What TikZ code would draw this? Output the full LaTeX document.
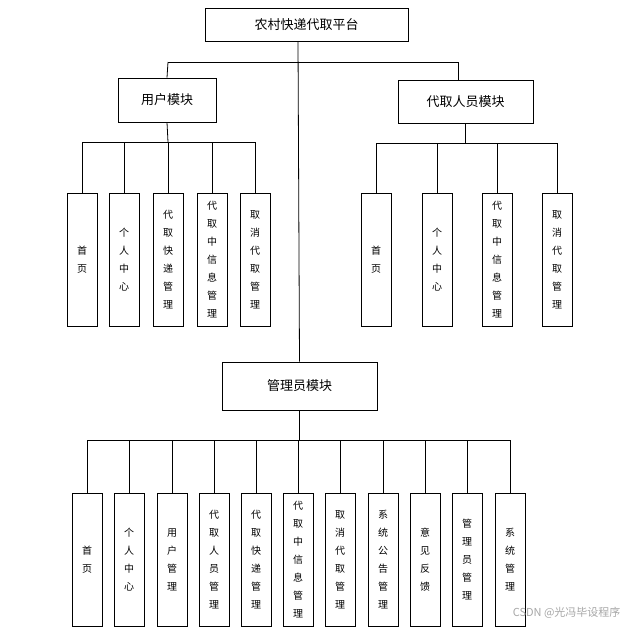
\documentclass[tikz,border=0pt]{standalone}
\usepackage{fontspec}
\newfontfamily\cjk{Noto Sans CJK SC}
\begin{document}
\begin{tikzpicture}[x=1pt,y=-1pt,
  box/.style={draw,thick,minimum width=30pt,minimum height=133pt,align=center,font=\cjk\fontsize{10}{18}\selectfont,inner sep=0pt,anchor=north},
  mod/.style={draw,thick,font=\cjk\fontsize{13}{15}\selectfont,inner sep=0pt},
  ln/.style={thick}]
\useasboundingbox (0,0) rectangle (637,633);
\node[mod,minimum width=203pt,minimum height=33pt] (top) at (306.5,24.5) {农村快递代取平台};
\node[mod,minimum width=98pt,minimum height=44pt] (u) at (167,100) {用户模块};
\node[mod,minimum width=135pt,minimum height=43pt] (d) at (465.5,101.5) {代取人员模块};
\node[mod,minimum width=155pt,minimum height=48pt] (a) at (299.5,386) {管理员模块};
\coordinate (tb) at (298,41);
\draw[ln] (tb) -- (a.north);
\draw[ln] (168,62) -- (458,62);
\draw[ln] (168,62) -- (u.north);
\draw[ln] (458,62) -- (458,80);
\foreach \n/\x/\t in {u1/82/首\\页,u2/124/个\\人\\中\\心,u3/168/代\\取\\快\\递\\管\\理,u4/212/代\\取\\中\\信\\息\\管\\理,u5/255/取\\消\\代\\取\\管\\理}{
  \node[box] (\n) at (\x,193) {\t};
  \draw[ln] (\x,142) -- (\n.north);}
\draw[ln] (82,142) -- (255,142);
\draw[ln] (u.south) -- (168,142);
\foreach \n/\x/\t in {d1/376/首\\页,d2/437/个\\人\\中\\心,d3/497/代\\取\\中\\信\\息\\管\\理,d4/557/取\\消\\代\\取\\管\\理}{
  \node[box] (\n) at (\x,193) {\t};
  \draw[ln] (\x,143) -- (\n.north);}
\draw[ln] (376,143) -- (557,143);
\draw[ln] (d.south) -- (465.5,143);
\foreach \n/\x/\t in {a1/87/首\\页,a2/129/个\\人\\中\\心,a3/172/用\\户\\管\\理,a4/214/代\\取\\人\\员\\管\\理,a5/256/代\\取\\快\\递\\管\\理,a6/298/代\\取\\中\\信\\息\\管\\理,a7/340/取\\消\\代\\取\\管\\理,a8/383/系\\统\\公\\告\\管\\理,a9/425/意\\见\\反\\馈,a10/467/管\\理\\员\\管\\理,a11/510/系\\统\\管\\理}{
  \node[box] (\n) at (\x,493) {\t};
  \draw[ln] (\x,440) -- (\n.north);}
\draw[ln] (87,440) -- (510,440);
\draw[ln] (a.south) -- (299.5,440);
\node[text=gray!70,font=\cjk\fontsize{11}{13}\selectfont,anchor=east] (wm) at (624,613) {CSDN @光冯毕设程序};
\end{tikzpicture}
\end{document}
